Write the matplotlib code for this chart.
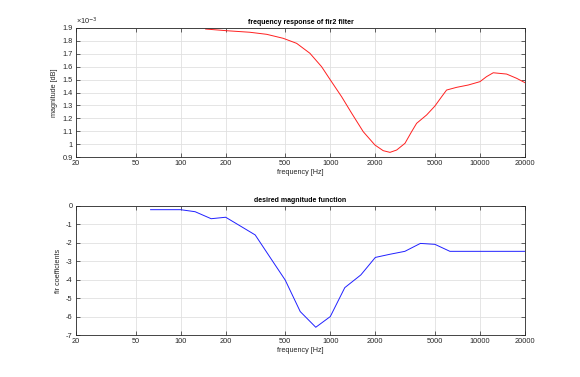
import matplotlib
matplotlib.use("Agg")
import matplotlib.pyplot as plt
from matplotlib.ticker import FixedLocator, FixedFormatter, NullLocator

plt.rcParams['font.family'] = ['Liberation Sans', 'DejaVu Sans']

# frequency response (magnitude, units of 1e-3)
resp_freq = [147, 203, 290, 376, 485, 596, 731, 875, 995, 1191, 1390, 1661, 1987,
             2258, 2505, 2776, 3155, 3493, 3774, 4404, 5000, 5545, 5984, 6982,
             8352, 10000, 11070, 12270, 15070, 17580, 20000]
resp_mag = [1.892, 1.879, 1.867, 1.851, 1.820, 1.781, 1.704, 1.600, 1.502, 1.367,
            1.239, 1.096, 0.993, 0.949, 0.936, 0.954, 1.006, 1.096, 1.161, 1.226,
            1.295, 1.367, 1.419, 1.440, 1.458, 1.484, 1.523, 1.553, 1.543, 1.510,
            1.476]

# desired magnitude function
des_freq = [63, 80, 100, 125, 160, 200, 250, 315, 400, 500, 630, 800, 1000, 1250,
            1600, 2000, 2500, 3150, 4000, 5000, 6300, 8000, 10000, 12500, 16000, 20000]
des_mag = [-0.2, -0.2, -0.2, -0.31, -0.69, -0.61, -1.08, -1.57, -2.84, -4.02, -5.73,
           -6.58, -6.0, -4.43, -3.74, -2.79, -2.62, -2.46, -2.03, -2.08, -2.46,
           -2.46, -2.46, -2.46, -2.46, -2.46]

xticks = [20, 50, 100, 200, 500, 1000, 2000, 5000, 10000, 20000]
xticklabels = ['20', '50', '100', '200', '500', '1000', '2000', '5000', '10000', '20000']
yticks_top = [0.9, 1.0, 1.1, 1.2, 1.3, 1.4, 1.5, 1.6, 1.7, 1.8, 1.9]
yticklabels_top = ['0.9', '1', '1.1', '1.2', '1.3', '1.4', '1.5', '1.6', '1.7', '1.8', '1.9']
yticks_bot = [-7, -6, -5, -4, -3, -2, -1, 0]
yticklabels_bot = ['-7', '-6', '-5', '-4', '-3', '-2', '-1', '0']

fig = plt.figure(figsize=(5.8, 3.77), dpi=100)
W, H = 580, 377
ax1 = fig.add_axes([76 / W, 1 - 157 / H, 449 / W, 129 / H])
ax2 = fig.add_axes([76 / W, 1 - 335 / H, 449 / W, 129 / H])

fs = 5.3
lfs = 5.2
spine_col = '#262626'

def style(ax, yt, ytl, ylim):
    ax.set_xscale('log')
    ax.set_xlim(20, 20000)
    ax.set_ylim(*ylim)
    ax.xaxis.set_major_locator(FixedLocator(xticks))
    ax.xaxis.set_major_formatter(FixedFormatter(xticklabels))
    ax.xaxis.set_minor_locator(NullLocator())
    ax.yaxis.set_major_locator(FixedLocator(yt))
    ax.yaxis.set_major_formatter(FixedFormatter(ytl))
    ax.tick_params(direction='in', length=3, width=0.5, labelsize=fs,
                   top=True, right=True, colors=spine_col, pad=2.5)
    ax.grid(True, color='#e0e0e0', linewidth=0.6)
    ax.set_axisbelow(True)
    for s in ax.spines.values():
        s.set_color(spine_col)
        s.set_linewidth(0.6)
    ax.set_xlabel('frequency [Hz]', fontsize=lfs, labelpad=1, color=spine_col)

ax1.plot(resp_freq, resp_mag, color='#ff2020', linewidth=0.7)
style(ax1, yticks_top, yticklabels_top, (0.9, 1.9))
ax1.set_ylabel('magnitude [dB]', fontsize=lfs, labelpad=3, color=spine_col)
ax1.set_title('frequency response of fir2 filter', fontsize=5.0,
              fontweight='bold', pad=3)
ax1.text(0.0, 1.005, '×10$^{-3}$', transform=ax1.transAxes, fontsize=fs,
         ha='left', va='bottom', color=spine_col)

ax2.plot(des_freq, des_mag, color='#2020ff', linewidth=0.7)
style(ax2, yticks_bot, yticklabels_bot, (-7, 0))
ax2.set_ylabel('fir coefficients', fontsize=lfs, labelpad=3, color=spine_col)
ax2.set_title('desired magnitude function', fontsize=5.0,
              fontweight='bold', pad=3)

fig.savefig('out.png', dpi=100)
